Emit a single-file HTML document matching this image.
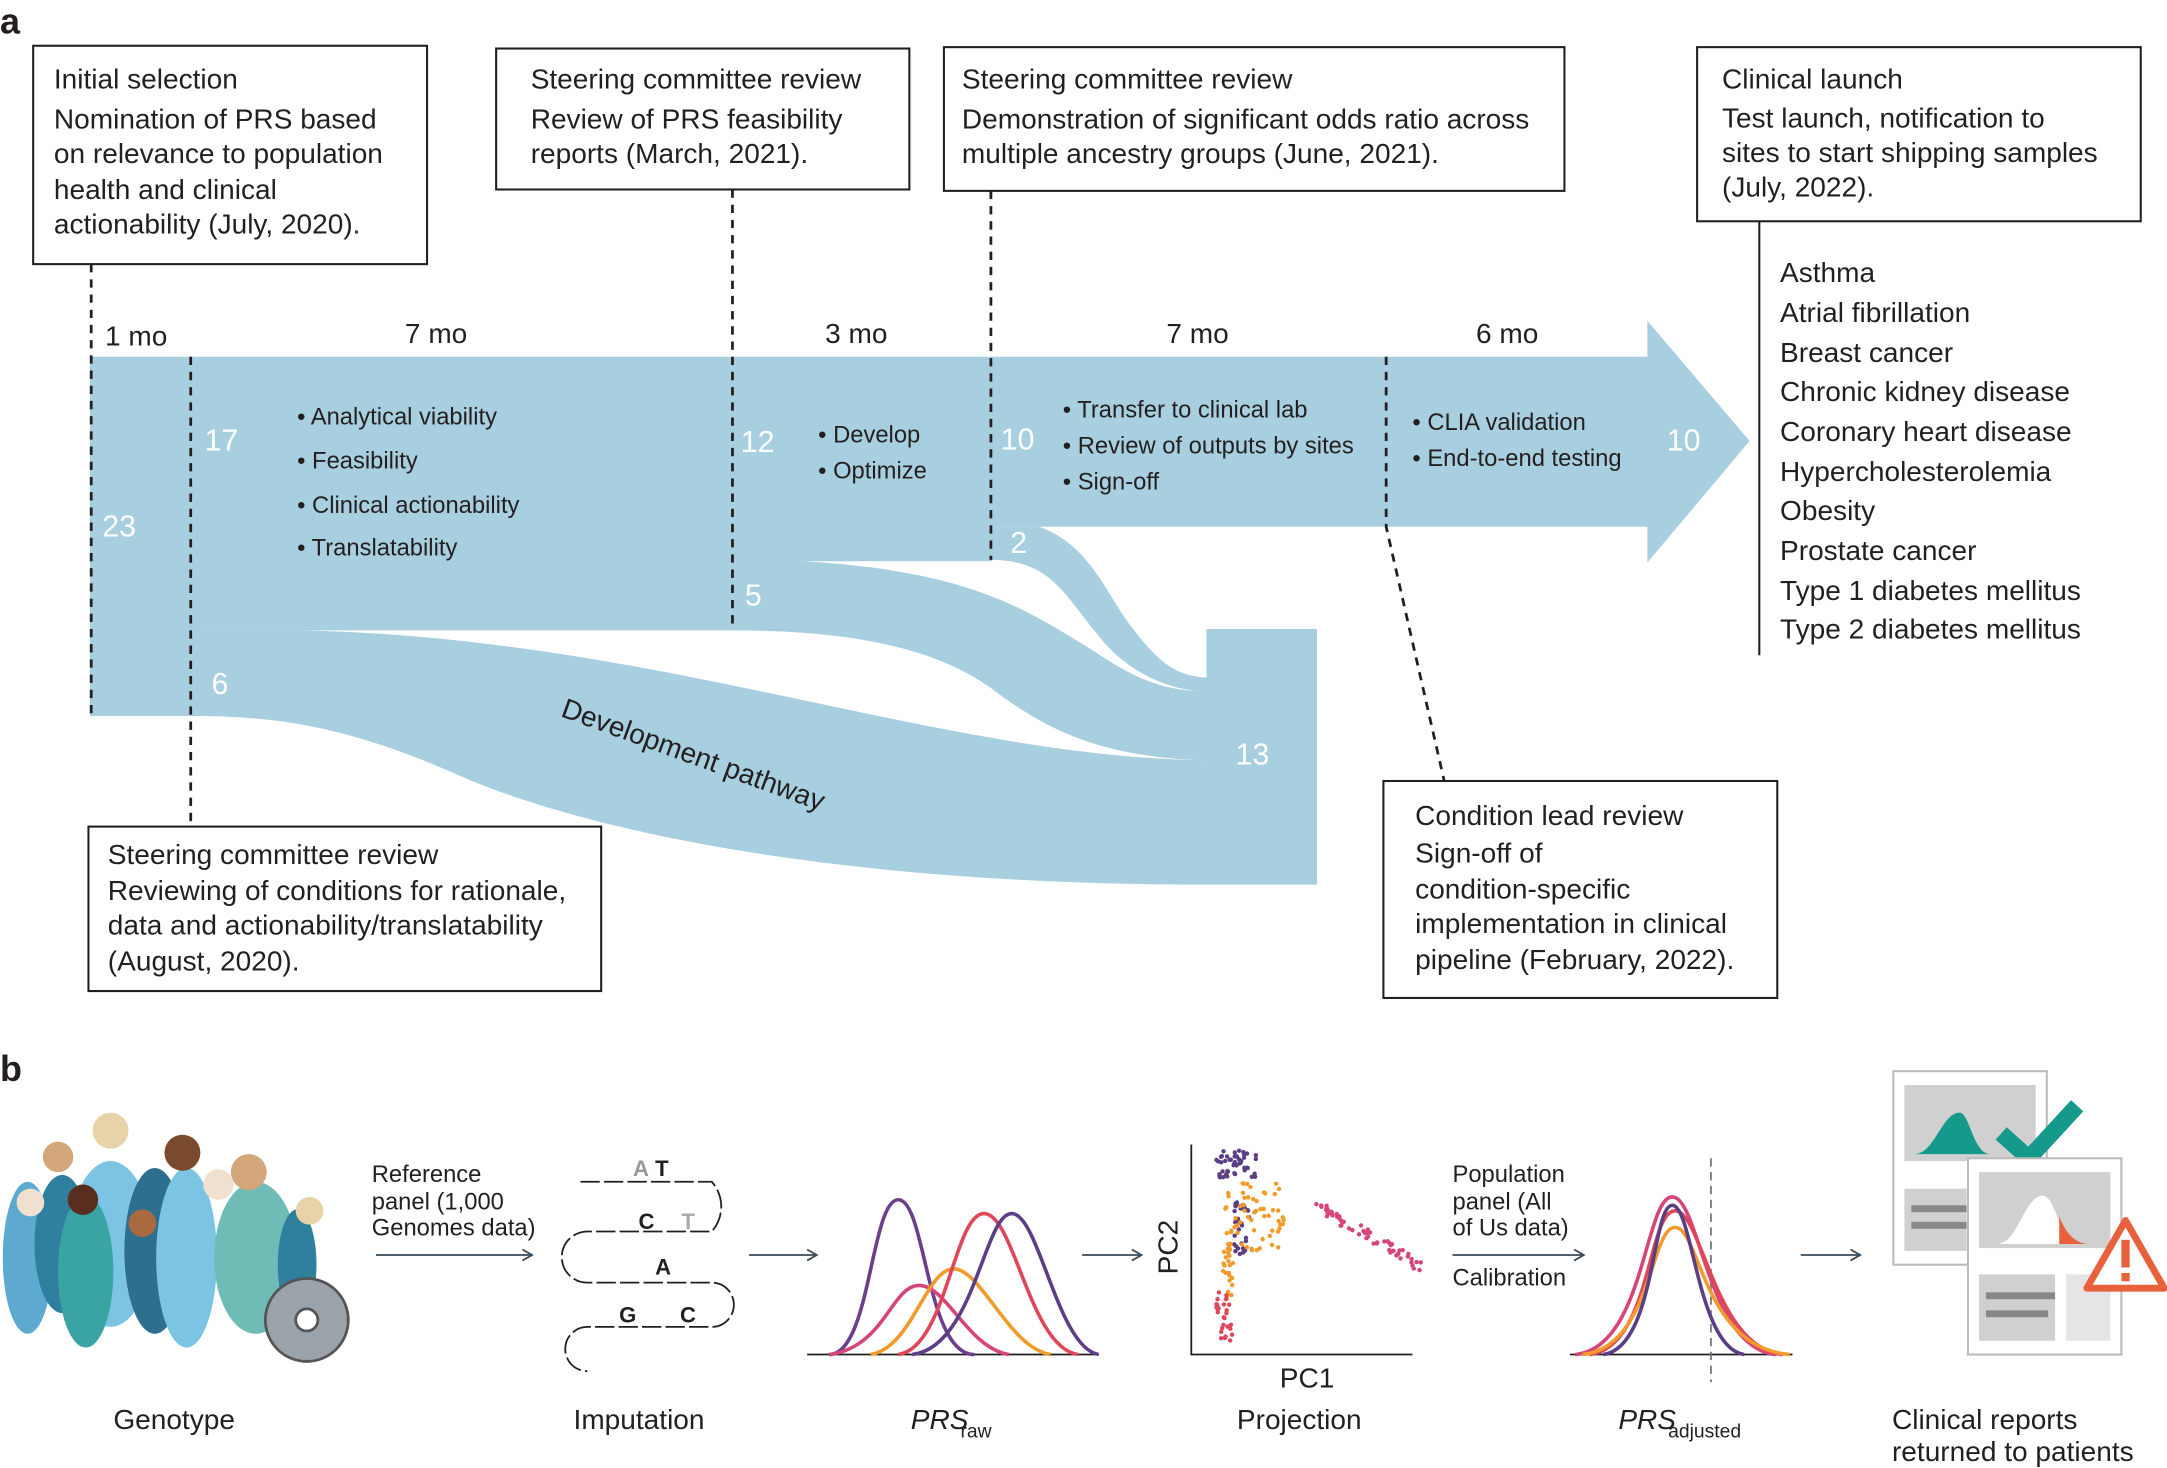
<!DOCTYPE html>
<html><head><meta charset="utf-8">
<style>
html,body{margin:0;padding:0;background:#fff;}
svg{display:block;}
text{font-family:"Liberation Sans",sans-serif;fill:#231f20;}
.bx{fill:#fff;stroke:#231f20;stroke-width:1.5;}
.t{font-size:20.3px;}
.s{font-size:17.2px;}
.w{fill:#fff;font-size:22px;}
.d{stroke:#231f20;stroke-width:2;stroke-dasharray:6,5;fill:none;}
.ar{stroke:#3a4a5a;stroke-width:1.3;fill:none;}
</style></head><body>
<svg id="sv" width="2167" height="1468" viewBox="0 0 1568 1062" xmlns="http://www.w3.org/2000/svg">
<text x="0" y="24" style="font-size:26px;font-weight:bold">a</text>
<text x="0" y="782" style="font-size:26px;font-weight:bold">b</text>
<g fill="#a8cfdf">
<rect x="65" y="258" width="74" height="260"/>
<rect x="138" y="258" width="393" height="198"/>
<rect x="530" y="258" width="188" height="148"/>
<rect x="717" y="258" width="476" height="123"/>
<polygon points="1192,232 1266,319 1192,407"/>
<rect x="873" y="455" width="80" height="185"/>
<path d="M138,456 L220,456 C480,462 680,548 873,550 L873,640 C600,640 420,600 330,560 C250,525 200,518 138,518 Z"/>
<path d="M530,405 L560,405 C700,410 740,440 790,470 C820,490 840,500 873,500 L873,550 C800,548 760,530 720,500 C680,470 620,456 530,456 Z"/>
<path d="M717,381 L752,381 C790,395 800,430 820,455 C835,475 850,490 873,490 L873,500 C840,500 810,480 795,460 C770,430 760,405 717,405 Z"/>
</g>
<path class="d" d="M66,191 V518"/>
<path class="d" d="M138,258 V598"/>
<path class="d" d="M530,137 V456"/>
<path class="d" d="M717,138 V405"/>
<path class="d" d="M1003,258 V381 L1045,565"/>
<line x1="1273" y1="160" x2="1273" y2="474" stroke="#231f20" stroke-width="1.5"/>
<text class="t" x="76" y="250">1 mo</text>
<text class="t" x="293" y="248">7 mo</text>
<text class="t" x="597" y="248">3 mo</text>
<text class="t" x="844" y="248">7 mo</text>
<text class="t" x="1068" y="248">6 mo</text>
<text class="w" x="74" y="388">23</text>
<text class="w" x="148" y="326">17</text>
<text class="w" x="536" y="327">12</text>
<text class="w" x="724" y="325">10</text>
<text class="w" x="1206" y="326">10</text>
<text class="w" x="731" y="400">2</text>
<text class="w" x="539" y="438">5</text>
<text class="w" x="153" y="502">6</text>
<text class="w" x="894" y="553">13</text>
<text class="t" x="0" y="0" transform="translate(405,518) rotate(20)">Development pathway</text>
<g class="s">
<text x="215" y="307">• Analytical viability</text>
<text x="215" y="339">• Feasibility</text>
<text x="215" y="371">• Clinical actionability</text>
<text x="215" y="402">• Translatability</text>
<text x="592" y="320">• Develop</text>
<text x="592" y="346">• Optimize</text>
<text x="769" y="302">• Transfer to clinical lab</text>
<text x="769" y="328">• Review of outputs by sites</text>
<text x="769" y="354">• Sign-off</text>
<text x="1022" y="311">• CLIA validation</text>
<text x="1022" y="337">• End-to-end testing</text>
</g>
<rect class="bx" x="24" y="33" width="285" height="158"/>
<g class="t"><text x="39" y="64">Initial selection</text><text x="39" y="93">Nomination of PRS based</text><text x="39" y="118">on relevance to population</text><text x="39" y="144">health and clinical</text><text x="39" y="169">actionability (July, 2020).</text></g>
<rect class="bx" x="359" y="35" width="299" height="102"/>
<g class="t"><text x="384" y="64">Steering committee review</text><text x="384" y="93">Review of PRS feasibility</text><text x="384" y="118">reports (March, 2021).</text></g>
<rect class="bx" x="683" y="34" width="449" height="104"/>
<g class="t"><text x="696" y="64">Steering committee review</text><text x="696" y="93">Demonstration of significant odds ratio across</text><text x="696" y="118">multiple ancestry groups (June, 2021).</text></g>
<rect class="bx" x="1228" y="34" width="321" height="126"/>
<g class="t"><text x="1246" y="64">Clinical launch</text><text x="1246" y="92">Test launch, notification to</text><text x="1246" y="117">sites to start shipping samples</text><text x="1246" y="142">(July, 2022).</text></g>
<rect class="bx" x="64" y="598" width="371" height="119"/>
<g class="t"><text x="78" y="625">Steering committee review</text><text x="78" y="651">Reviewing of conditions for rationale,</text><text x="78" y="676">data and actionability/translatability</text><text x="78" y="702">(August, 2020).</text></g>
<rect class="bx" x="1001" y="565" width="285" height="157"/>
<g class="t"><text x="1024" y="597">Condition lead review</text><text x="1024" y="624">Sign-off of</text><text x="1024" y="650">condition-specific</text><text x="1024" y="675">implementation in clinical</text><text x="1024" y="701">pipeline (February, 2022).</text></g>
<g class="t">
<text x="1288" y="204">Asthma</text><text x="1288" y="233">Atrial fibrillation</text><text x="1288" y="262">Breast cancer</text><text x="1288" y="290">Chronic kidney disease</text><text x="1288" y="319">Coronary heart disease</text><text x="1288" y="348">Hypercholesterolemia</text><text x="1288" y="376">Obesity</text><text x="1288" y="405">Prostate cancer</text><text x="1288" y="434">Type 1 diabetes mellitus</text><text x="1288" y="462">Type 2 diabetes mellitus</text>
</g>
<g>
<ellipse cx="20" cy="910" rx="18" ry="55" fill="#5ea9cf"/>
<ellipse cx="45" cy="900" rx="20" ry="50" fill="#2f7f9e"/>
<ellipse cx="80" cy="900" rx="30" ry="60" fill="#7cc4e3"/>
<ellipse cx="62" cy="920" rx="20" ry="55" fill="#3aa3a3"/>
<ellipse cx="112" cy="905" rx="22" ry="60" fill="#2d6f8f"/>
<ellipse cx="135" cy="910" rx="22" ry="65" fill="#7cc4e3"/>
<ellipse cx="185" cy="910" rx="30" ry="55" fill="#6fbcb6"/>
<ellipse cx="215" cy="915" rx="14" ry="40" fill="#2f7f9e"/>
<circle cx="80" cy="818" r="13" fill="#e8d3a8"/>
<circle cx="42" cy="837" r="11" fill="#d3a779"/>
<circle cx="132" cy="834" r="13" fill="#7a4a2e"/>
<circle cx="180" cy="848" r="13" fill="#d3a779"/>
<circle cx="22" cy="870" r="10" fill="#f0e0d0"/>
<circle cx="60" cy="868" r="11" fill="#5a2e1e"/>
<circle cx="103" cy="885" r="10" fill="#a86a3e"/>
<circle cx="158" cy="857" r="11" fill="#f0e0d0"/>
<circle cx="224" cy="876" r="10" fill="#e8d3a8"/>
<circle cx="222" cy="955" r="30" fill="#9aa3aa" stroke="#555" stroke-width="2"/>
<circle cx="222" cy="955" r="8" fill="#fff" stroke="#555" stroke-width="2"/>
</g>
<text class="t" x="82" y="1034">Genotype</text>
<g class="s"><text x="269" y="855">Reference</text><text x="269" y="875">panel (1,000</text><text x="269" y="894">Genomes data)</text></g>
<line class="ar" x1="272" y1="908" x2="384" y2="908"/><path d="M378,904 L385,908 L378,912" class="ar"/>
<g fill="none" stroke="#231f20" stroke-width="1.3">
<path d="M420,855 H515 A27,27 0 0 1 515,891 H425 A15,15 0 0 0 425,928 H515 A15,15 0 0 1 515,960 H425 A15,15 0 0 0 425,992" stroke-dasharray="14,3"/>
</g>
<g style="font-family:'Liberation Mono',monospace;font-size:16px;font-weight:bold">
<text x="458" y="851" style="fill:#999">A</text><text x="474" y="851">T</text>
<text x="462" y="889">C</text><text x="493" y="889" style="fill:#aaa">T</text>
<text x="474" y="922">A</text>
<text x="448" y="957">G</text><text x="492" y="957">C</text>
</g>
<text class="t" x="415" y="1034">Imputation</text>
<line class="ar" x1="542" y1="908" x2="590" y2="908"/><path d="M584,904 L591,908 L584,912" class="ar"/>
<line x1="584" y1="980" x2="795" y2="980" stroke="#231f20" stroke-width="1.3"/>
<g fill="none" stroke-width="2.6">
<path d="M600,980 C630,980 630,868 650,868 S670,980 705,980" stroke="#6b3f8c"/>
<path d="M600,980 C640,975 645,930 665,930 S700,975 730,980" stroke="#d6457a"/>
<path d="M630,980 C660,975 670,918 690,918 S730,975 760,980" stroke="#f29b2a"/>
<path d="M650,980 C685,975 690,878 712,878 S745,975 780,980" stroke="#e0465a"/>
<path d="M660,980 C705,975 712,878 732,878 S765,975 795,980" stroke="#5b3f86"/>
</g>
<text class="t" x="659" y="1034" style="font-style:italic">PRS</text><text x="695" y="1040" style="font-size:14px">raw</text>
<line class="ar" x1="783" y1="908" x2="825" y2="908"/><path d="M819,904 L826,908 L819,912" class="ar"/>
<polyline points="862,828 862,980 1022,980" fill="none" stroke="#231f20" stroke-width="1.3"/>
<text class="t" x="0" y="0" transform="translate(852,922) rotate(-90)">PC2</text>
<text class="t" x="926" y="1004">PC1</text>
<g id="dots"></g>
<text class="t" x="895" y="1034">Projection</text>
<g class="s"><text x="1051" y="855">Population</text><text x="1051" y="875">panel (All</text><text x="1051" y="894">of Us data)</text><text x="1051" y="930">Calibration</text></g>
<line class="ar" x1="1051" y1="908" x2="1145" y2="908"/><path d="M1139,904 L1146,908 L1139,912" class="ar"/>
<line x1="1136" y1="980" x2="1297" y2="980" stroke="#231f20" stroke-width="1.3"/>
<line x1="1238" y1="838" x2="1238" y2="1000" stroke="#777" stroke-width="1.3" stroke-dasharray="6,4"/>
<g fill="none" stroke-width="2.6">
<path d="M1140,980 C1190,975 1190,866 1210,866 S1235,975 1285,980" stroke="#d6457a"/>
<path d="M1150,980 C1195,975 1192,876 1212,876 S1240,975 1290,980" stroke="#e0465a"/>
<path d="M1145,980 C1195,975 1194,888 1212,888 S1232,975 1295,980" stroke="#f29b2a"/>
<path d="M1160,980 C1198,975 1195,872 1210,872 S1228,975 1262,980" stroke="#5b3f86"/>
</g>
<text class="t" x="1171" y="1034" style="font-style:italic">PRS</text><text x="1207" y="1040" style="font-size:14px">adjusted</text>
<line class="ar" x1="1303" y1="908" x2="1345" y2="908"/><path d="M1339,904 L1346,908 L1339,912" class="ar"/>
<rect x="1370" y="775" width="111" height="140" fill="#fff" stroke="#bbb" stroke-width="1.5"/>
<rect x="1378" y="785" width="95" height="55" fill="#d0d0d0"/>
<path d="M1385,835 C1400,835 1405,805 1418,805 C1425,805 1428,835 1440,835 Z" fill="#15998a"/>
<rect x="1378" y="860" width="45" height="45" fill="#d0d0d0"/>
<rect x="1383" y="872" width="40" height="5" fill="#888"/><rect x="1383" y="884" width="40" height="5" fill="#888"/>
<path d="M1448,820 L1468,838 L1503,800" fill="none" stroke="#15998a" stroke-width="12"/>
<rect x="1424" y="838" width="111" height="142" fill="#fff" stroke="#bbb" stroke-width="1.5"/>
<rect x="1432" y="848" width="95" height="55" fill="#d0d0d0"/>
<path d="M1445,900 C1460,900 1465,865 1478,865 C1488,865 1490,900 1505,900 Z" fill="#fff"/>
<path d="M1490,880 C1494,890 1500,900 1512,900 L1490,900 Z" fill="#e8603c"/>
<rect x="1432" y="922" width="55" height="48" fill="#d0d0d0"/>
<rect x="1437" y="935" width="50" height="5" fill="#888"/><rect x="1437" y="948" width="45" height="5" fill="#888"/>
<rect x="1495" y="922" width="32" height="48" fill="#e5e5e5"/>
<path d="M1538,883 L1566,932 L1510,932 Z" fill="#fff" stroke="#e8603c" stroke-width="5" stroke-linejoin="round"/>
<rect x="1535" y="897" width="6" height="20" fill="#e8603c"/><rect x="1535" y="921" width="6" height="6" fill="#e8603c"/>
<g class="t"><text x="1369" y="1034">Clinical reports</text><text x="1369" y="1057">returned to patients</text></g>
</svg>
<script>
(function(){
var g=document.getElementById('dots'),s=7,o='';
function r(){s=(s*9301+49297)%233280;return s/233280;}
function dot(x,y,c){o+='<circle cx="'+x.toFixed(1)+'" cy="'+y.toFixed(1)+'" r="1.6" fill="'+c+'"/>';}
for(var i=0;i<50;i++)dot(880+r()*30,832+r()*20,'#5b3f86');
for(var i=0;i<30;i++)dot(893+r()*12,870+r()*40,'#5b3f86');
for(var i=0;i<60;i++)dot(885+r()*45,855+r()*50,'#f29b2a');
for(var i=0;i<25;i++)dot(885+r()*8,900+r()*40,'#f29b2a');
for(var i=0;i<30;i++)dot(880+r()*12,935+r()*35,'#e0465a');
for(var i=0;i<60;i++){var t=r();dot(950+t*75+r()*6,868+t*45+r()*8,'#d6457a');}
g.innerHTML=o;
})();
</script>
</body></html>
